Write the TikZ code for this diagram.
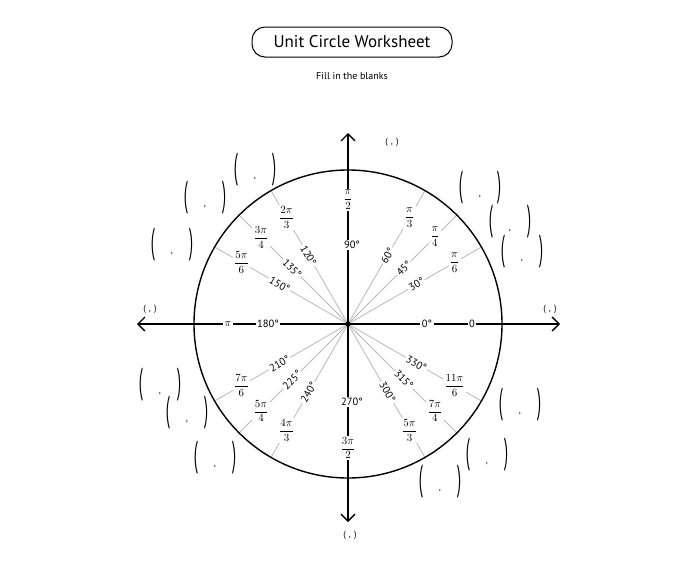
\documentclass[tikz,border=0pt]{standalone}
\usepackage{fontspec}
\setmainfont{PT Sans}
\usetikzlibrary{arrows.meta,calc}
\tikzset{
  ray/.style={draw=gray!55, line width=0.8pt},
  axis/.style={line width=1.3pt, -{Straight Barb[length=7pt,width=14pt]}},
  lbl/.style={fill=white, inner sep=1.5pt, font=\fontsize{10.5}{11}\selectfont},
  frac/.style={fill=white, inner sep=1.5pt, font=\fontsize{10.5}{11}\selectfont},
  pair/.style={inner sep=0pt, font=\fontsize{9}{10}\selectfont},
}
\newcommand{\bigpair}{\scalebox{0.8}[2.0]{\fontsize{18}{18}\selectfont(}\hspace{16pt}{\fontsize{9}{9}\selectfont,}\hspace{16pt}\scalebox{0.8}[2.0]{\fontsize{18}{18}\selectfont)}}
\newcommand{\smallpair}{(\,\,,\,\,)}
\newcommand{\fr}[2]{$\displaystyle\frac{#1}{#2}$}
\begin{document}
\begin{tikzpicture}[x=1pt,y=-1pt]
\useasboundingbox (0,0) rectangle (700,573);
\fill[white] (0,0) rectangle (700,573);
\node[draw, rounded corners=13pt, line width=1pt, minimum width=200pt, minimum height=30pt, font=\fontsize{17}{19}\selectfont] (title) at (352,42) {Unit Circle Worksheet};
\node[font=\fontsize{10}{11}\selectfont] (sub) at (352,76) {Fill in the blanks};
\coordinate (O) at (348,324);
\foreach \a in {30,45,60,120,135,150,210,225,240,300,315,330}
  \draw[ray] (O) -- ++(\a:154 and -154);
\node[draw, circle, line width=1.4pt, minimum size=308pt, inner sep=0pt] (C) at (O) {};
\coordinate (L) at (137,324); \coordinate (R) at (560,324);
\coordinate (T) at (348,133); \coordinate (B) at (348,522);
\draw[axis] (O) -- (L); \draw[axis] (O) -- (R);
\draw[axis] (O) -- (T); \draw[axis] (O) -- (B);
\fill (O) circle (2.5pt);
\foreach \a in {30,45,60,120,135,150,210,225,240,300,315,330}{
  \pgfmathsetmacro{\r}{ifthenelse(\a>90 && \a<270, \a-180, \a)}
  \node[lbl, rotate=\r] at ($(O)+(\a:79 and -79)$) {\a°};
}
\node[lbl] (d0) at (427,324) {0°};
\node[lbl] (d90) at (352,245) {90°};
\node[lbl] (d180) at (268,324) {180°};
\node[lbl] (d270) at (352,402) {270°};
\node[frac] at (472,324) {0};
\node[frac] at (228,324) {$\pi$};
\node[frac] at (348,200) {\fr{\pi}{2}};
\node[frac] at (348,448) {\fr{3\pi}{2}};
\foreach \a/\n/\d in {30/\pi/6,45/\pi/4,60/\pi/3,120/2\pi/3,135/3\pi/4,150/5\pi/6,210/7\pi/6,225/5\pi/4,240/4\pi/3,300/5\pi/3,315/7\pi/4,330/11\pi/6}
  \node[frac] at ($(O)+(\a:123 and -123)$) {\fr{\n}{\d}};
\node[pair] (p90) at (392,142) {\smallpair};
\node[pair] (p180) at (150,309) {\smallpair};
\node[pair] (p0) at (550,309) {\smallpair};
\node[pair] (p270) at (350,535) {\smallpair};
\foreach \x/\y in {255/170,205/198,172/245,480/188,510/222,522/252,160/385,187/413,215/458,440/482,487/455,520/405}
  \node[pair] at (\x,\y) {\bigpair};
\end{tikzpicture}
\end{document}
